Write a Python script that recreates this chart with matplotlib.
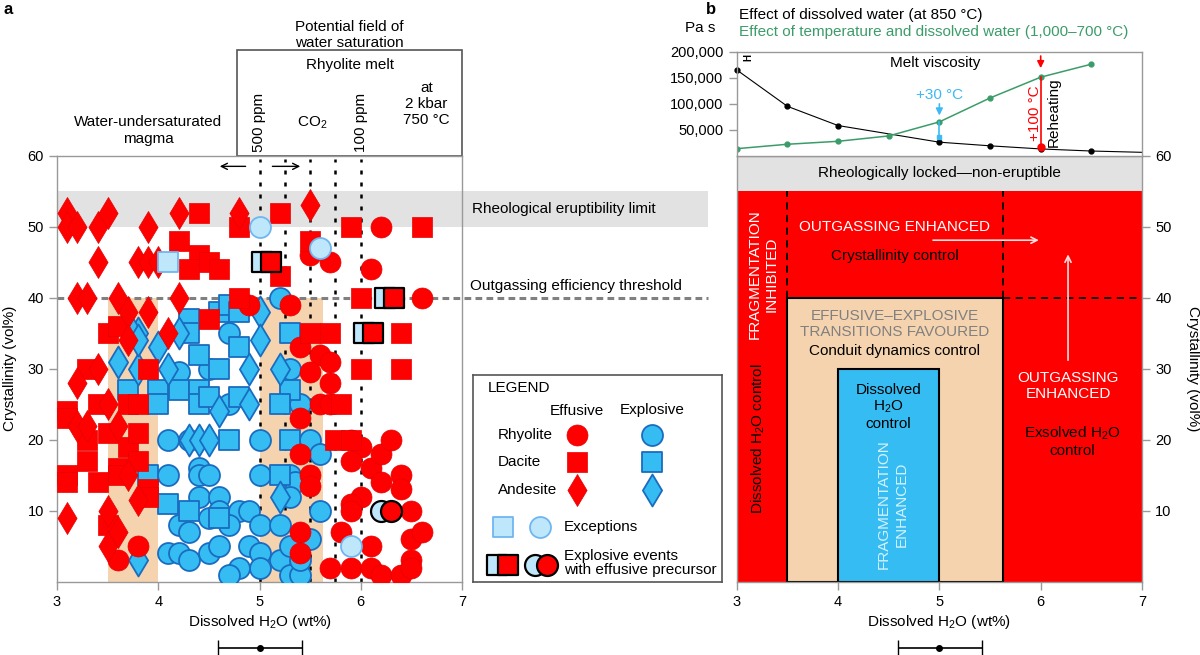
import numpy as np
import matplotlib.pyplot as plt
from matplotlib.patches import Rectangle

plt.rcParams['font.family'] = ['Liberation Sans', 'DejaVu Sans']
plt.rcParams['mathtext.fontset'] = 'custom'
plt.rcParams['mathtext.rm'] = 'Liberation Sans'
plt.rcParams['mathtext.it'] = 'Liberation Sans:italic'
plt.rcParams['font.size'] = 11

RED = '#ff0000'
BLUE = '#35bdf3'
BLUE_EDGE = '#1a6cc0'
PALE = '#bfe7fb'
PALE_EDGE = '#6fb6f0'
TAN = '#f5d3ae'
BAND = '#e2e2e2'
GREEN = '#3c9c69'
CYAN = '#3db9f5'
SPINE = '#999999'

# ---- panel a data: (dissolved H2O wt%, crystallinity vol%) ----
eff_rhy_x = [6.2, 5.5, 5.7, 6.1, 6.6, 4.9, 5.3, 5.4, 5.6, 5.7, 5.5, 5.7, 5.4, 5.6, 5.7,
             3.8, 3.6, 5.4, 5.5, 5.5, 5.4, 5.4, 5.9, 6.0, 5.9, 6.1, 6.2, 6.3, 6.2, 6.4,
             6.4, 6.0, 5.9, 5.9, 6.5, 5.8, 6.1, 6.5, 6.6, 6.5, 5.7, 5.9, 6.1, 6.2, 6.4, 6.5]
eff_rhy_y = [50, 46, 45, 44, 40, 39, 39, 33, 32, 31, 29.5, 28, 23, 25, 25,
             5, 3, 18, 15, 13.5, 7, 4, 20, 19, 17, 16, 18, 20, 14, 15,
             13, 12, 11, 10, 10, 7, 5, 6, 7, 3, 2, 2, 2, 1, 1, 2]

eff_dac_x = [4.4, 4.8, 5.2, 4.2, 4.4, 4.5, 4.3, 4.6, 5.5, 5.2, 5.9, 6.6, 4.8, 4.5, 6.0,
             3.5, 3.6, 3.9, 3.3, 5.5, 5.7, 6.4, 6.0, 6.4, 5.8, 5.75, 5.9,
             3.1, 3.1, 3.4, 3.7, 3.8, 3.3, 3.5, 3.7, 3.8, 3.3, 3.1, 3.1, 3.4, 3.6, 3.6,
             3.8, 3.9, 3.9, 3.5]
eff_dac_y = [52, 50, 52, 48, 46, 45, 44, 44, 48, 43, 50, 50, 40, 37, 40,
             35, 36, 30, 30, 35, 35, 35, 30, 30, 25, 20, 20,
             24, 23, 25, 25, 25, 20, 21, 19, 21, 17, 15, 14, 14, 16, 15,
             17, 13, 12, 8]

eff_and_x = [3.1, 3.1, 3.2, 3.4, 3.5, 3.9, 4.2, 4.8, 5.5, 3.4, 3.8, 3.9, 4.0, 3.2, 3.3,
             3.6, 4.2, 3.9, 3.7, 3.7, 4.1, 3.4, 3.2, 3.5, 3.2, 3.3, 3.6, 3.1, 3.7, 3.8,
             3.5, 3.5, 3.6]
eff_and_y = [52, 50, 50, 50, 52, 50, 52, 52, 53, 45, 45, 45, 45, 40, 40,
             40, 40, 38, 38, 34, 35, 30, 28, 25, 22, 22, 22, 9, 15, 11.5,
             10, 5, 7]

exp_rhy_x = [5.2, 4.7, 5.3, 4.2, 4.5, 5.4, 4.7, 4.1, 4.3, 5.0, 5.5, 5.6, 4.1, 4.4, 4.4,
             4.5, 5.0, 5.3, 5.35, 5.3, 4.4, 4.6, 4.6, 4.8, 4.9, 4.5, 4.2, 4.3, 4.7, 5.0,
             5.2, 5.6, 4.1, 4.2, 4.3, 4.5, 4.6, 4.9, 5.0, 5.0, 4.8, 4.7, 5.2, 5.3, 5.3,
             5.4, 5.4, 5.5]
exp_rhy_y = [40, 35, 30, 29.5, 30, 25, 25, 20, 20, 20, 20, 18, 15, 16, 15,
             15, 15, 15, 14, 12, 12, 12, 10, 10, 10, 9, 8, 7, 8, 8,
             8, 10, 4, 4, 3, 4, 5, 5, 4, 2, 2, 1, 3, 5, 1,
             1, 3, 6]

exp_dac_x = [4.3, 4.3, 4.4, 4.6, 4.7, 4.8, 4.8, 4.6, 5.3, 5.3, 5.2, 3.7, 4.0, 4.0, 4.2,
             4.4, 4.4, 4.5, 4.8, 4.7, 5.3, 3.9, 4.1, 4.3, 4.6, 5.2]
exp_dac_y = [37, 35, 32, 38, 39, 38, 33, 30, 35, 27, 25, 27, 27, 25, 27,
             27, 25, 26, 26, 20, 20, 15, 11, 10, 9, 15]

exp_and_x = [5.0, 5.0, 4.9, 5.2, 4.2, 4.0, 3.8, 3.7, 3.6, 3.8, 4.1, 3.8, 4.3, 4.4, 4.5,
             4.6, 4.9, 5.2, 3.8]
exp_and_y = [38, 34, 30, 30, 35, 33, 35, 36, 31, 30, 30, 34, 20, 20, 20,
             24, 25, 12, 3]

exc_sq_x, exc_sq_y = [4.1], [45]
exc_ci_x, exc_ci_y = [5.0, 5.6, 5.9], [50, 47, 5]

prec_sq_x, prec_sq_y = [5.11, 6.33, 6.12], [45, 40, 35]
prec_ci_x, prec_ci_y = [6.3], [10]

co2_lines = [5.0, 5.25, 5.5, 5.75, 6.0]
xticks = [3, 4, 5, 6, 7]
yticks = [10, 20, 30, 40, 50, 60]

# ---- panel b viscosity data (Pa s) ----
visc_x = [3, 3.5, 4, 5, 5.5, 6, 6.5, 7]
visc_water = [165000, 95000, 58000, 26000, 19000, 13000, 9000, 6500]
visc_temp_x = [3, 3.5, 4, 4.5, 5, 5.5, 6, 6.5]
visc_temp = [13500, 22000, 27700, 38000, 65000, 111000, 151000, 176000]
visc_ticks = [50000, 100000, 150000, 200000]

W, H = 1200, 655
fig = plt.figure(figsize=(12, 6.55), dpi=100)


def box(l, t, r, b):
    return [l / W, 1 - b / H, (r - l) / W, (b - t) / H]


S_CI, S_SQ, S_DI = 228, 188, 265


def style_spines(a):
    for sp in a.spines.values():
        sp.set_color(SPINE)
        sp.set_linewidth(1.0)
    a.tick_params(colors=SPINE, labelcolor='k', labelsize=10.5, length=6, width=1)


# ================= panel a =================
ax = fig.add_axes(box(57, 155.7, 462, 581.7))
ax.set_xlim(3, 7)
ax.set_ylim(0, 60)
style_spines(ax)
ax.set_xticks(xticks)
ax.set_yticks(yticks)

ax.add_patch(Rectangle((3, 50), 6.43, 5, color=BAND, lw=0, clip_on=False, zorder=0))
ax.add_patch(Rectangle((3.5, 0), 0.5, 40, color=TAN, lw=0, zorder=0))
ax.add_patch(Rectangle((5.0, 0), 0.625, 40, color=TAN, lw=0, zorder=0))
ax.plot([3, 9.43], [40, 40], color='#808080', lw=2.2, ls=(0, (2.2, 1.4)),
        clip_on=False, zorder=1)
for xv in co2_lines:
    ax.plot([xv, xv], [0, 59.5], color='k', lw=1.8, ls=(0, (1.6, 3.2)), zorder=1.5)

ax.scatter(exp_rhy_x, exp_rhy_y, s=S_CI, marker='o', c=BLUE, edgecolors=BLUE_EDGE, linewidths=1.3, zorder=3)
ax.scatter(exp_dac_x, exp_dac_y, s=S_SQ, marker='s', c=BLUE, edgecolors=BLUE_EDGE, linewidths=1.3, zorder=3)
ax.scatter(exp_and_x, exp_and_y, s=S_DI, marker='d', c=BLUE, edgecolors=BLUE_EDGE, linewidths=1.3, zorder=3)
ax.scatter(eff_rhy_x, eff_rhy_y, s=S_CI, marker='o', c=RED, edgecolors='#e80000', linewidths=0.5, zorder=3)
ax.scatter(eff_dac_x, eff_dac_y, s=S_SQ, marker='s', c=RED, edgecolors='#e80000', linewidths=0.5, zorder=3)
ax.scatter(eff_and_x, eff_and_y, s=S_DI, marker='d', c=RED, edgecolors='#e80000', linewidths=0.5, zorder=3)
ax.scatter(exc_sq_x, exc_sq_y, s=S_SQ, marker='s', c=PALE, edgecolors=PALE_EDGE, linewidths=1.3, zorder=4)
ax.scatter(exc_ci_x, exc_ci_y, s=S_CI, marker='o', c=PALE, edgecolors=PALE_EDGE, linewidths=1.3, zorder=4)
ax.scatter(np.array(prec_sq_x) - 0.09, prec_sq_y, s=S_SQ, marker='s', c=PALE, edgecolors='k', linewidths=1.6, zorder=5)
ax.scatter(prec_sq_x, prec_sq_y, s=S_SQ, marker='s', c=RED, edgecolors='k', linewidths=1.6, zorder=5)
ax.scatter(np.array(prec_ci_x) - 0.1, prec_ci_y, s=S_CI, marker='o', c=PALE, edgecolors='k', linewidths=1.6, zorder=5)
ax.scatter(prec_ci_x, prec_ci_y, s=S_CI, marker='o', c=RED, edgecolors='k', linewidths=1.6, zorder=5)

# box with CO2 annotation above the axes
ax.add_patch(Rectangle((4.78, 60), 2.22, 14.9, fill=False, ec='#555555', lw=1.2, clip_on=False))
ax.text(5.89, 77, 'Potential field of\nwater saturation', ha='center', va='center', linespacing=1.15)
ax.text(5.89, 72.8, 'Rhyolite melt', ha='center', va='center')
ax.text(6.65, 67.3, 'at\n2 kbar\n750 °C', ha='center', va='center', linespacing=1.15)
ax.text(5.0, 64.7, '500 ppm', rotation=90, ha='center', va='center')
ax.text(6.0, 64.7, '100 ppm', rotation=90, ha='center', va='center')
ax.text(5.52, 64.6, 'CO$_2$', ha='center', va='center')
ax.text(3.9, 63.6, 'Water-undersaturated\nmagma', ha='center', va='center', linespacing=1.25)
ax.annotate('', xy=(4.58, 58.5), xytext=(4.89, 58.5),
            arrowprops=dict(arrowstyle='->', color='k', lw=1.0))
ax.annotate('', xy=(5.43, 58.5), xytext=(5.1, 58.5),
            arrowprops=dict(arrowstyle='->', color='k', lw=1.0))
ax.text(7.1, 52.5, 'Rheological eruptibility limit', ha='left', va='center')
ax.text(7.08, 41.6, 'Outgassing efficiency threshold', ha='left', va='center')

ax.text(-0.116, 0.5, 'Crystallinity (vol%)', rotation=90, ha='center', va='center',
        transform=ax.transAxes)
ax.text(0.5, -0.095, 'Dissolved H$_2$O (wt%)', ha='center', va='center', transform=ax.transAxes)
ax.errorbar(5.0, -9.3, xerr=[[0.41], [0.42]], fmt='o', color='k', ms=4, lw=1.2,
            capsize=6, clip_on=False)

# legend box
lg = fig.add_axes(box(473, 375, 722, 582))
lg.set_xlim(473, 722)
lg.set_ylim(582, 375)
lg.set_xticks([])
lg.set_yticks([])
for sp in lg.spines.values():
    sp.set_color('#555555')
    sp.set_linewidth(1.2)
lg.text(488, 388, 'LEGEND', va='center')
lg.text(576.7, 411.5, 'Effusive', ha='center', va='center')
lg.text(651.7, 410, 'Explosive', ha='center', va='center')
rows = [('Rhyolite', 'o', S_CI, 435), ('Dacite', 's', S_SQ, 461.7), ('Andesite', 'd', S_DI, 490)]
for name, mk, sz, yy in rows:
    lg.text(498, yy, name, va='center')
    lg.scatter([576.7], [yy], s=sz, marker=mk, c=RED, edgecolors='#e80000', linewidths=0.5)
    lg.scatter([651.7], [yy], s=sz, marker=mk, c=BLUE, edgecolors=BLUE_EDGE, linewidths=1.3)
lg.scatter([502.7], [527.3], s=S_SQ, marker='s', c=PALE, edgecolors=PALE_EDGE, linewidths=1.3)
lg.scatter([540], [527.3], s=S_CI, marker='o', c=PALE, edgecolors=PALE_EDGE, linewidths=1.3)
lg.text(564, 527.3, 'Exceptions', va='center')
lg.scatter([497], [565], s=S_SQ, marker='s', c=PALE, edgecolors='k', linewidths=1.6)
lg.scatter([508], [565], s=S_SQ, marker='s', c=RED, edgecolors='k', linewidths=1.6)
lg.scatter([535], [565], s=S_CI, marker='o', c=PALE, edgecolors='k', linewidths=1.6)
lg.scatter([547], [565], s=S_CI, marker='o', c=RED, edgecolors='k', linewidths=1.6)
lg.text(564, 563, 'Explosive events\nwith effusive precursor', va='center', linespacing=1.0)

# ================= panel b =================
bx = fig.add_axes(box(736.7, 155.7, 1142, 581.7))
bx.set_xlim(3, 7)
bx.set_ylim(0, 60)
style_spines(bx)
bx.set_xticks(xticks)
bx.set_yticks(yticks)
bx.yaxis.tick_right()

bx.add_patch(Rectangle((3, 55), 4, 5, color=BAND, lw=0, zorder=0))
bx.add_patch(Rectangle((3, 0), 4, 55, color=RED, lw=0, zorder=0))
bx.add_patch(Rectangle((3.5, 0), 2.125, 40, fc=TAN, ec='k', lw=1.5, zorder=1))
bx.add_patch(Rectangle((4.0, 0), 1.0, 30, fc=BLUE, ec='k', lw=1.5, zorder=2))
dash = (0, (4, 3))
bx.plot([3.5, 3.5], [40, 55], color='k', lw=1.3, ls=dash, zorder=2)
bx.plot([5.625, 5.625], [40, 55], color='k', lw=1.3, ls=dash, zorder=2)
bx.plot([5.625, 7], [40, 40], color='k', lw=1.3, ls=dash, zorder=2)

bx.text(5.0, 57.5, 'Rheologically locked—non-eruptible', ha='center', va='center')
bx.text(3.26, 43.3, 'FRAGMENTATION\nINHIBITED', rotation=90, ha='center', va='center',
        color='white', linespacing=1.3)
bx.text(3.21, 20.2, 'Dissolved H$_2$O control', rotation=90, ha='center', va='center')
bx.text(4.56, 49.9, 'OUTGASSING ENHANCED', ha='center', va='center', color='white')
bx.text(4.56, 45.9, 'Crystallinity control', ha='center', va='center')
bx.annotate('', xy=(6.01, 48.1), xytext=(4.91, 48.1),
            arrowprops=dict(arrowstyle='->', color='#ffdede', lw=1.2))
bx.annotate('', xy=(6.27, 46.5), xytext=(6.27, 30.8),
            arrowprops=dict(arrowstyle='->', color='#ffdede', lw=1.2))
bx.text(4.56, 36.3, 'EFFUSIVE–EXPLOSIVE\nTRANSITIONS FAVOURED', ha='center', va='center',
        color='#808080', linespacing=1.15, zorder=3)
bx.text(4.56, 32.5, 'Conduit dynamics control', ha='center', va='center', zorder=3)
bx.text(4.5, 24.6, 'Dissolved\nH$_2$O\ncontrol', ha='center', va='center', linespacing=1.15, zorder=3)
bx.text(4.54, 10.9, 'FRAGMENTATION\nENHANCED', rotation=90, ha='center', va='center',
        color='#d6f0fc', linespacing=1.3, zorder=3)
bx.text(6.27, 27.6, 'OUTGASSING\nENHANCED', ha='center', va='center', color='white', linespacing=1.15)
bx.text(6.31, 19.8, 'Exsolved H$_2$O\ncontrol', ha='center', va='center', linespacing=1.15)

bx.text(1.126, 0.5, 'Crystallinity (vol%)', rotation=270, ha='center', va='center',
        transform=bx.transAxes)
bx.text(0.5, -0.095, 'Dissolved H$_2$O (wt%)', ha='center', va='center', transform=bx.transAxes)
bx.errorbar(5.0, -9.3, xerr=[[0.41], [0.42]], fmt='o', color='k', ms=4, lw=1.2,
            capsize=6, clip_on=False)

# viscosity inset
vx = fig.add_axes(box(736.7, 51.7, 1142, 155.7))
vx.set_xlim(3, 7)
vx.set_ylim(0, 200000)
style_spines(vx)
vx.set_xticks([])
vx.set_yticks(visc_ticks)
vx.set_yticklabels([f'{v:,}' for v in visc_ticks])
vx.plot(visc_x, visc_water, color='k', lw=0.8, marker='o', ms=3.5, markevery=list(range(7)),
        clip_on=False)
vx.plot(visc_temp_x, visc_temp, color=GREEN, lw=1.1, marker='o', ms=3.5)
vx.text(4.96, 177700, 'Melt viscosity', ha='center', va='center')
vx.text(3.12, 189000, 'H', rotation=90, ha='center', va='center', fontsize=7, weight='bold')
vx.text(5.0, 116700, '+30 °C', ha='center', va='center', color=CYAN)
vx.annotate('', xy=(5.0, 72000), xytext=(5.0, 105000),
            arrowprops=dict(arrowstyle='-|>', color=CYAN, lw=1.2, mutation_scale=10))
vx.plot([5.0, 5.0], [65000, 36500], color=CYAN, lw=1.2)
vx.plot([5.0], [36500], 's', color=CYAN, ms=3)
vx.annotate('', xy=(6.0, 163000), xytext=(6.0, 197000),
            arrowprops=dict(arrowstyle='-|>', color=RED, lw=1.2, mutation_scale=10),
            annotation_clip=False)
vx.plot([6.0, 6.0], [151000, 17000], color=RED, lw=1.2)
vx.plot([6.0], [17000], 'o', color=RED, ms=5)
vx.text(5.945, 82000, '+100 °C', rotation=90, ha='center', va='center', color=RED)
vx.text(6.13, 84600, 'Reheating', rotation=90, ha='center', va='center')

fig.text(715 / W, 1 - 28 / H, 'Pa s', ha='right', va='center')
fig.text(739 / W, 1 - 15 / H, 'Effect of dissolved water (at 850 °C)', va='center')
fig.text(739 / W, 1 - 32 / H, 'Effect of temperature and dissolved water (1,000–700 °C)',
         va='center', color=GREEN)
fig.text(4 / W, 1 - 10 / H, 'a', weight='bold', fontsize=12, va='center')
fig.text(706 / W, 1 - 10 / H, 'b', weight='bold', fontsize=12, va='center')

fig.savefig('out.png', dpi=100)
